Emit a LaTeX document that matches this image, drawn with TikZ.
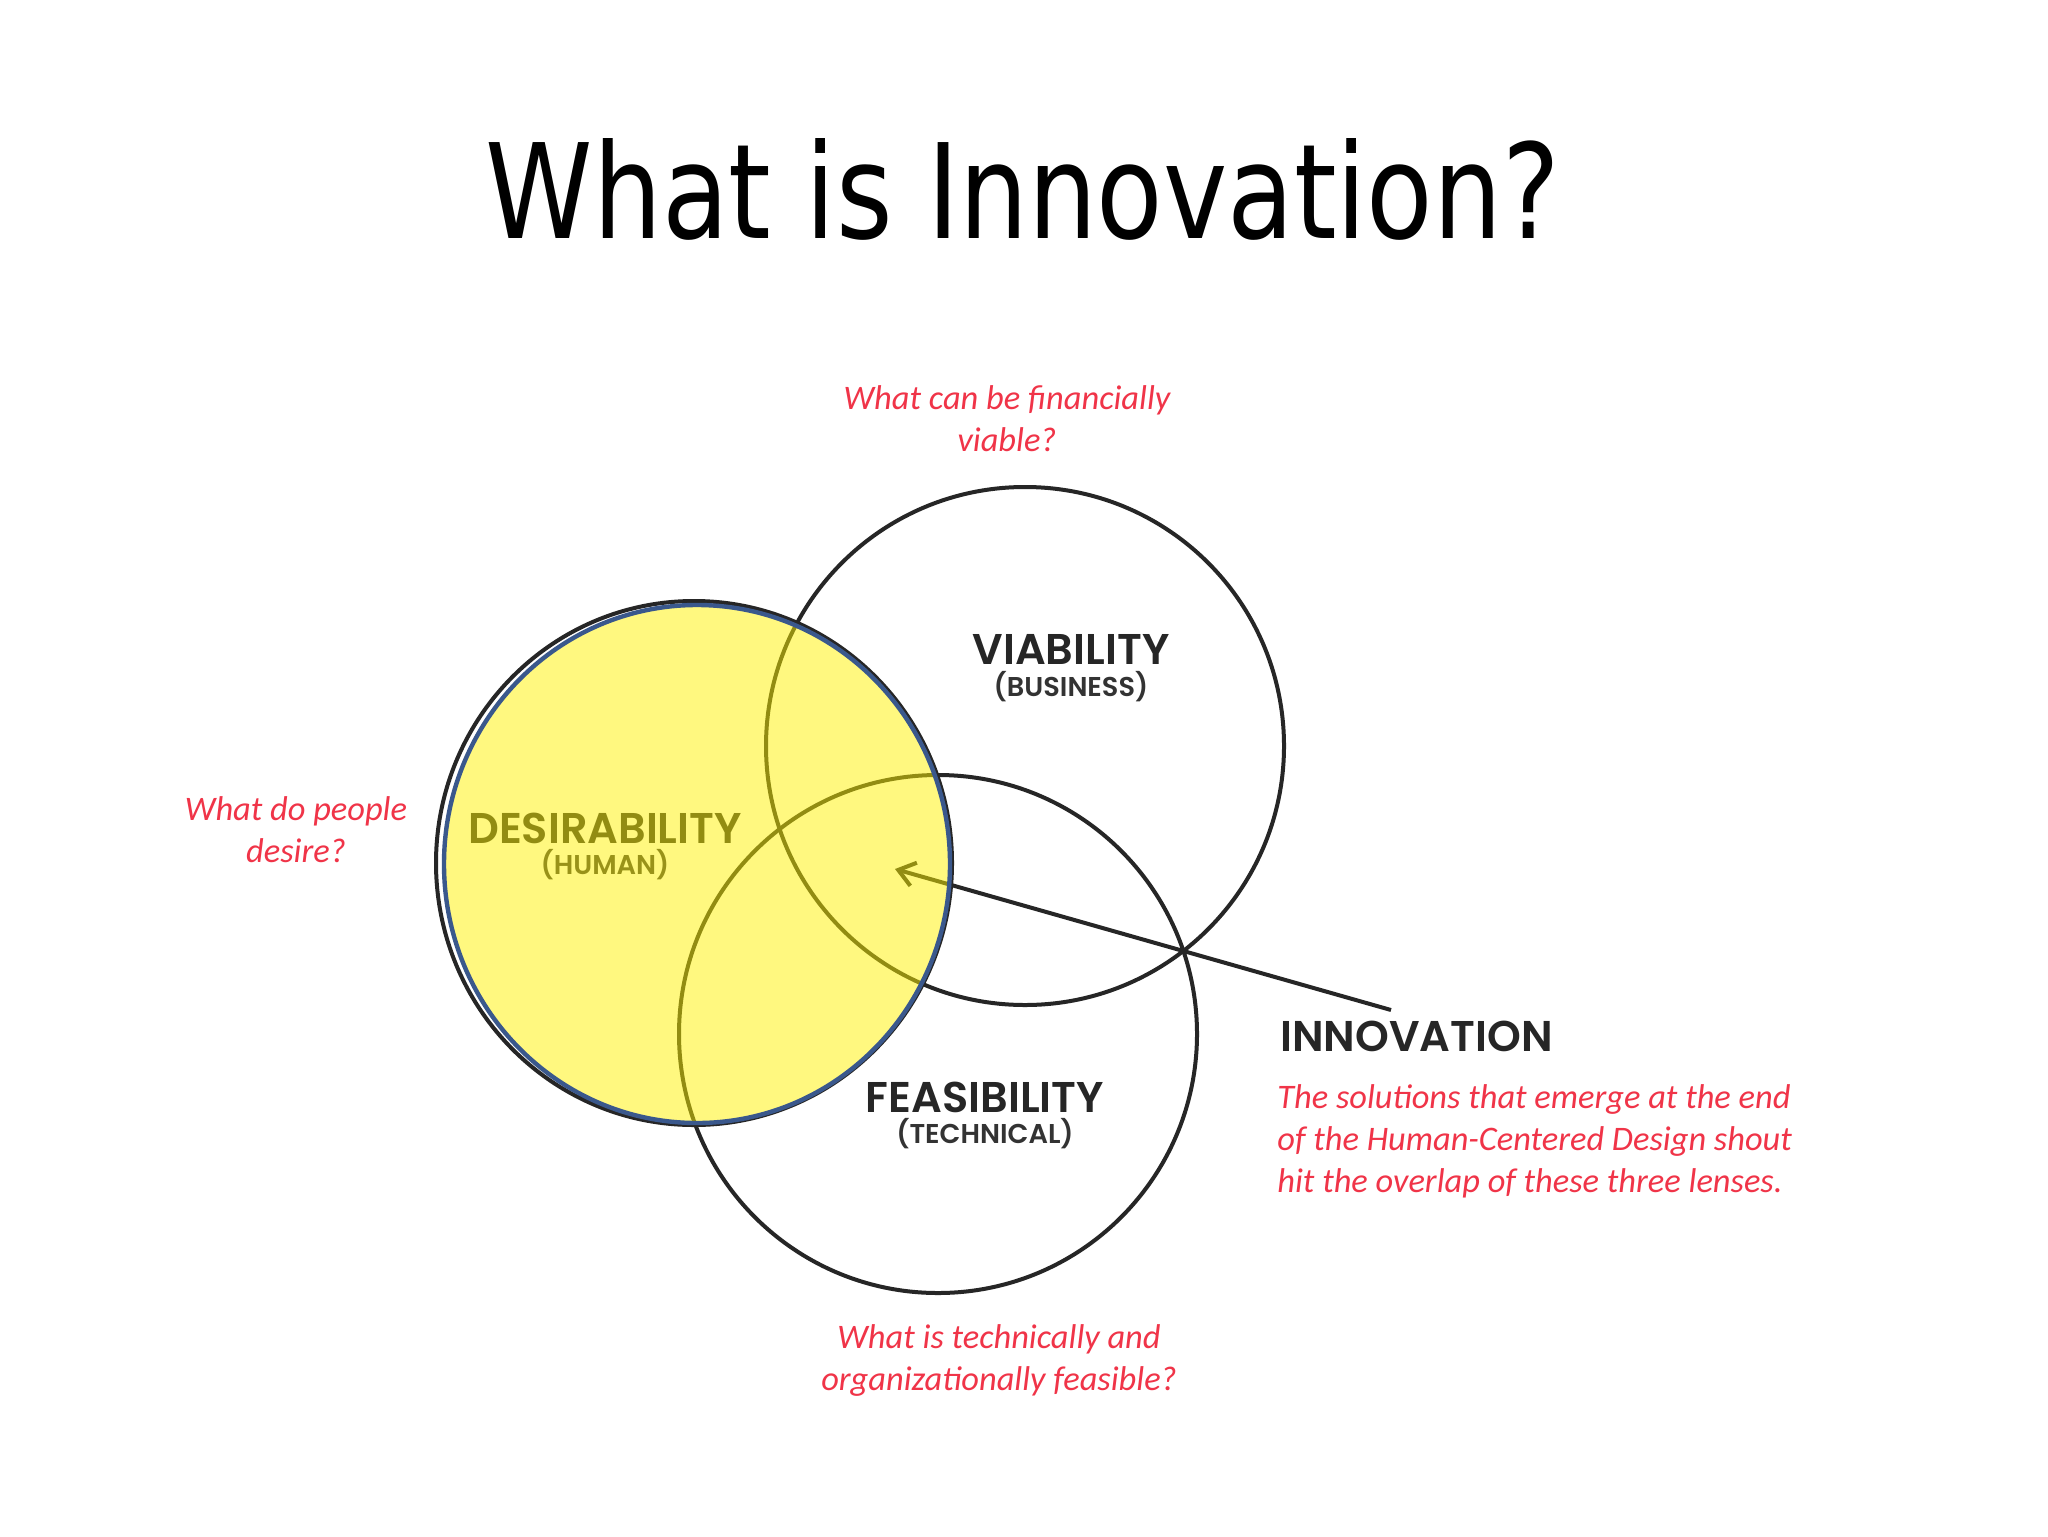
\documentclass[tikz,border=0pt]{standalone}
\usepackage{fontspec}
\setmainfont{Carlito}
\newfontfamily\titlefont{DejaVu Sans Condensed}
\newfontfamily\capsfont{Poppins}[UprightFont={* SemiBold}]
\usetikzlibrary{arrows.meta,shapes.geometric}
\definecolor{qred}{RGB}{240,52,72}
\definecolor{rimblue}{RGB}{58,88,140}
\begin{document}
\begin{tikzpicture}[x=0.5pt,y=-0.5pt,
  lens/.style={draw=black!85,line width=2pt,circle,minimum size=259pt,inner sep=0pt},
  bigcap/.style={font=\capsfont\fontsize{21.5}{24}\selectfont,text=black!85,inner sep=0pt},
  smallcap/.style={font=\capsfont\fontsize{13.6}{16}\selectfont,text=black!80,inner sep=0pt},
  question/.style={font=\itshape\fontsize{17.2}{21}\selectfont,text=qred,align=center,inner sep=0pt},
  note/.style={font=\itshape\fontsize{17.2}{21}\selectfont,text=qred,align=left,inner sep=0pt,anchor=north west}]
\useasboundingbox (0,0) rectangle (2048,1536);
\fill[white] (0,0) rectangle (2048,1536);
% title
\node[inner sep=0pt,anchor=base] (title) at (1023,238) {\resizebox{537pt}{50pt}{\titlefont What is Innovation?}};
% lenses
\node[draw=black!85,line width=2pt,ellipse,minimum width=258pt,minimum height=262pt,inner sep=0pt] (D) at (694,863) {};
\node[lens] (V) at (1025,746) {};
\node[lens] (F) at (938,1034) {};
% labels
\node[bigcap] (Vl) at (1071,649) {VIABILITY};
\node[smallcap] (Vs) at (1071,687) {(BUSINESS)};
\node[bigcap] (Dl) at (605,828) {DESIRABILITY};
\node[smallcap] (Ds) at (605,865) {(HUMAN)};
\node[bigcap] (Fl) at (985,1097) {FEASIBILITY};
\node[smallcap] (Fs) at (985,1134) {(TECHNICAL)};
\node[bigcap,anchor=west] (I) at (1280,1036) {INNOVATION};
% questions
\node[question] (qV) at (1007,419) {What can be financially\\viable?};
\node[question] (qD) at (296,830) {What do people\\desire?};
\node[question] (qF) at (999,1360) {What is technically and\\organizationally feasible?};
\node[note] (N) at (1277,1084) {The solutions that emerge at the end\\of the Human-Centered Design shout\\hit the overlap of these three lenses.};
% arrow
\coordinate (from) at (1391,1010);
\coordinate (tip) at (895,869);
\draw[line width=2pt,black!85,-{Straight Barb[length=8pt,width=12pt,line width=2pt]}] (from) -- (tip);
% yellow highlight
\fill[yellow,fill opacity=0.5] (697,864) ellipse [x radius=253,y radius=259];
\draw[rimblue,line width=2.2pt] (697,864) ellipse [x radius=253,y radius=259];
\end{tikzpicture}
\end{document}
